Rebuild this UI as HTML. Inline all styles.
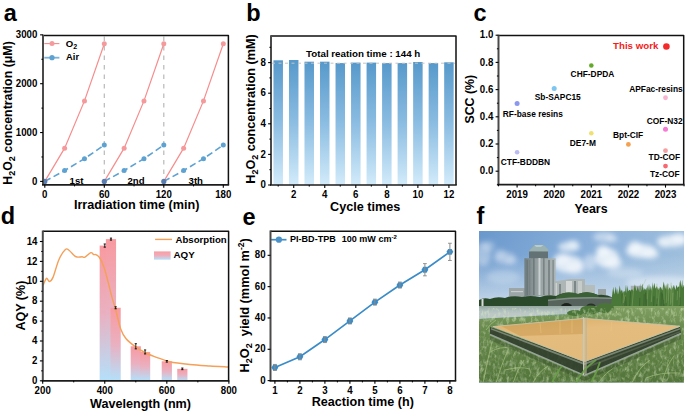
<!DOCTYPE html>
<html><head><meta charset="utf-8"><style>
html,body{margin:0;padding:0;background:#fff;}
body{width:685px;height:413px;overflow:hidden;}
svg{display:block;font-family:"Liberation Sans", sans-serif;}
</style></head><body>
<svg width="685" height="413" viewBox="0 0 685 413" style="font-family:&quot;Liberation Sans&quot;, sans-serif">
<rect width="685" height="413" fill="#fff"/>
<text x="3.80" y="21.00" font-size="23.5" text-anchor="start" fill="#000" font-weight="bold" >a</text>
<line x1="104.30" y1="36.50" x2="104.30" y2="184.00" stroke="#b8b8b8" stroke-width="1.2" stroke-dasharray="4.5 5"/>
<line x1="163.80" y1="36.50" x2="163.80" y2="184.00" stroke="#b8b8b8" stroke-width="1.2" stroke-dasharray="4.5 5"/>
<polyline points="44.80,181.40 64.63,148.18 84.47,100.90 104.30,43.74" fill="none" stroke="#f78c8c" stroke-width="1.2"/>
<polyline points="44.80,181.40 64.63,170.56 84.47,158.68 104.30,145.01" fill="none" stroke="#5ea2d2" stroke-width="1.6" stroke-dasharray="6.5 3.5"/>
<polyline points="104.30,181.40 124.14,148.18 143.97,100.90 163.80,43.74" fill="none" stroke="#f78c8c" stroke-width="1.2"/>
<polyline points="104.30,181.40 124.14,170.56 143.97,158.68 163.80,145.01" fill="none" stroke="#5ea2d2" stroke-width="1.6" stroke-dasharray="6.5 3.5"/>
<polyline points="163.80,181.40 183.64,148.18 203.47,100.90 223.31,43.74" fill="none" stroke="#f78c8c" stroke-width="1.2"/>
<polyline points="163.80,181.40 183.64,170.56 203.47,158.68 223.31,145.01" fill="none" stroke="#5ea2d2" stroke-width="1.6" stroke-dasharray="6.5 3.5"/>
<circle cx="64.63" cy="148.18" r="2.5" fill="#f59a9c"/>
<circle cx="84.47" cy="100.90" r="2.5" fill="#f59a9c"/>
<circle cx="104.30" cy="43.74" r="2.5" fill="#f59a9c"/>
<circle cx="64.63" cy="170.56" r="2.5" fill="#5ea2d2"/>
<circle cx="84.47" cy="158.68" r="2.5" fill="#5ea2d2"/>
<circle cx="104.30" cy="145.01" r="2.5" fill="#5ea2d2"/>
<circle cx="44.80" cy="181.40" r="2.6" fill="#5a7db0"/>
<circle cx="124.14" cy="148.18" r="2.5" fill="#f59a9c"/>
<circle cx="143.97" cy="100.90" r="2.5" fill="#f59a9c"/>
<circle cx="163.80" cy="43.74" r="2.5" fill="#f59a9c"/>
<circle cx="124.14" cy="170.56" r="2.5" fill="#5ea2d2"/>
<circle cx="143.97" cy="158.68" r="2.5" fill="#5ea2d2"/>
<circle cx="163.80" cy="145.01" r="2.5" fill="#5ea2d2"/>
<circle cx="104.30" cy="181.40" r="2.6" fill="#5a7db0"/>
<circle cx="183.64" cy="148.18" r="2.5" fill="#f59a9c"/>
<circle cx="203.47" cy="100.90" r="2.5" fill="#f59a9c"/>
<circle cx="223.31" cy="43.74" r="2.5" fill="#f59a9c"/>
<circle cx="183.64" cy="170.56" r="2.5" fill="#5ea2d2"/>
<circle cx="203.47" cy="158.68" r="2.5" fill="#5ea2d2"/>
<circle cx="223.31" cy="145.01" r="2.5" fill="#5ea2d2"/>
<circle cx="163.80" cy="181.40" r="2.6" fill="#5a7db0"/>
<line x1="44.30" y1="43.60" x2="59.40" y2="43.60" stroke="#f58a8a" stroke-width="1.1" />
<circle cx="52" cy="43.6" r="2.5" fill="#f59a9c"/>
<line x1="44.30" y1="57.70" x2="59.40" y2="57.70" stroke="#7ab4dc" stroke-width="1.8" />
<circle cx="52" cy="57.7" r="2.6" fill="#5ea2d2"/>
<text x="65.8" y="46.6" font-size="9.6" font-weight="bold">O<tspan font-size="7" dy="2.4">2</tspan></text>
<text x="66.00" y="60.10" font-size="9.4" text-anchor="start" fill="#000" font-weight="bold" >Air</text>
<text x="69.60" y="184.20" font-size="9.6" text-anchor="start" fill="#000" font-weight="bold" >1st</text>
<text x="127.50" y="184.20" font-size="9.6" text-anchor="start" fill="#000" font-weight="bold" >2nd</text>
<text x="188.60" y="184.20" font-size="9.6" text-anchor="start" fill="#000" font-weight="bold" >3th</text>
<path d="M43.00,35.50 H228.40 V184.80" fill="none" stroke="#111" stroke-width="1.5" stroke-linejoin="round"/>
<path d="M43.00,34.75 V184.80" fill="none" stroke="#4a4a4a" stroke-width="2.0"/>
<path d="M42.00,184.80 H229.15" fill="none" stroke="#1c1c1c" stroke-width="1.7"/>
<line x1="43.00" y1="181.40" x2="40.10" y2="181.40" stroke="#000" stroke-width="1.1" />
<line x1="43.00" y1="132.55" x2="40.10" y2="132.55" stroke="#000" stroke-width="1.1" />
<line x1="43.00" y1="83.70" x2="40.10" y2="83.70" stroke="#000" stroke-width="1.1" />
<line x1="43.00" y1="34.85" x2="40.10" y2="34.85" stroke="#000" stroke-width="1.1" />
<line x1="43.00" y1="156.98" x2="41.40" y2="156.98" stroke="#000" stroke-width="1.0" />
<line x1="43.00" y1="108.13" x2="41.40" y2="108.13" stroke="#000" stroke-width="1.0" />
<line x1="43.00" y1="59.28" x2="41.40" y2="59.28" stroke="#000" stroke-width="1.0" />
<text transform="translate(37.40,184.50) scale(1,1.05)" font-size="9.7" text-anchor="end" font-weight="bold">0</text>
<text transform="translate(37.40,135.65) scale(1,1.05)" font-size="9.7" text-anchor="end" font-weight="bold">1000</text>
<text transform="translate(37.40,86.80) scale(1,1.05)" font-size="9.7" text-anchor="end" font-weight="bold">2000</text>
<text transform="translate(37.40,37.95) scale(1,1.05)" font-size="9.7" text-anchor="end" font-weight="bold">3000</text>
<line x1="44.80" y1="184.80" x2="44.80" y2="187.70" stroke="#000" stroke-width="1.1" />
<line x1="104.30" y1="184.80" x2="104.30" y2="187.70" stroke="#000" stroke-width="1.1" />
<line x1="163.80" y1="184.80" x2="163.80" y2="187.70" stroke="#000" stroke-width="1.1" />
<line x1="223.31" y1="184.80" x2="223.31" y2="187.70" stroke="#000" stroke-width="1.1" />
<line x1="74.55" y1="184.80" x2="74.55" y2="186.40" stroke="#000" stroke-width="1.0" />
<line x1="134.05" y1="184.80" x2="134.05" y2="186.40" stroke="#000" stroke-width="1.0" />
<line x1="193.56" y1="184.80" x2="193.56" y2="186.40" stroke="#000" stroke-width="1.0" />
<text transform="translate(44.80,198.20) scale(1,1.05)" font-size="9.7" text-anchor="middle" font-weight="bold">0</text>
<text transform="translate(104.30,198.20) scale(1,1.05)" font-size="9.7" text-anchor="middle" font-weight="bold">60</text>
<text transform="translate(163.80,198.20) scale(1,1.05)" font-size="9.7" text-anchor="middle" font-weight="bold">120</text>
<text transform="translate(223.31,198.20) scale(1,1.05)" font-size="9.7" text-anchor="middle" font-weight="bold">180</text>
<text x="73.90" y="209.30" font-size="12.64" text-anchor="start" fill="#000" font-weight="bold" >Irradiation time (min)</text>
<text transform="translate(11.8,113) rotate(-90)" font-size="12.4" text-anchor="middle" font-weight="bold">H<tspan font-size="9" dy="3">2</tspan><tspan dy="-3">O</tspan><tspan font-size="9" dy="3">2</tspan><tspan dy="-3"> concentration (μM)</tspan></text>
<text x="246.20" y="21.20" font-size="23.5" text-anchor="start" fill="#000" font-weight="bold" >b</text>
<defs><linearGradient id="gb" x1="0" y1="0" x2="0" y2="1"><stop offset="0" stop-color="#5799cb"/><stop offset="0.5" stop-color="#8cbde2"/><stop offset="1" stop-color="#d2ebfa"/></linearGradient><linearGradient id="gd" x1="0" y1="0" x2="0" y2="1"><stop offset="0" stop-color="#f89aa0"/><stop offset="0.5" stop-color="#eab0c0"/><stop offset="1" stop-color="#b4e0fa"/></linearGradient><linearGradient id="gl" x1="0" y1="0" x2="0" y2="1"><stop offset="0" stop-color="#f89ea4"/><stop offset="0.45" stop-color="#f2aab6"/><stop offset="1" stop-color="#b6e2fa"/></linearGradient></defs>
<rect x="273.45" y="60.30" width="9.5" height="124.70" fill="url(#gb)"/>
<rect x="288.97" y="60.00" width="9.5" height="125.00" fill="url(#gb)"/>
<rect x="304.49" y="61.68" width="9.5" height="123.32" fill="url(#gb)"/>
<rect x="320.01" y="61.68" width="9.5" height="123.32" fill="url(#gb)"/>
<rect x="335.53" y="63.06" width="9.5" height="121.94" fill="url(#gb)"/>
<rect x="351.05" y="62.60" width="9.5" height="122.40" fill="url(#gb)"/>
<rect x="366.57" y="62.60" width="9.5" height="122.40" fill="url(#gb)"/>
<rect x="382.09" y="63.06" width="9.5" height="121.94" fill="url(#gb)"/>
<rect x="397.61" y="63.06" width="9.5" height="121.94" fill="url(#gb)"/>
<rect x="413.13" y="61.99" width="9.5" height="123.01" fill="url(#gb)"/>
<rect x="428.65" y="63.06" width="9.5" height="121.94" fill="url(#gb)"/>
<rect x="444.17" y="62.29" width="9.5" height="122.71" fill="url(#gb)"/>
<line x1="272.00" y1="63.20" x2="455.00" y2="63.20" stroke="#c4c4c4" stroke-width="1.0" stroke-dasharray="3 3.5"/>
<text x="306.00" y="57.10" font-size="9.77" text-anchor="start" fill="#000" font-weight="bold" >Total reation time : 144 h</text>
<path d="M271.00,35.90 H456.00 V185.00" fill="none" stroke="#111" stroke-width="1.5" stroke-linejoin="round"/>
<path d="M271.00,35.15 V185.00" fill="none" stroke="#4a4a4a" stroke-width="2.0"/>
<path d="M270.00,185.00 H456.75" fill="none" stroke="#1c1c1c" stroke-width="1.7"/>
<line x1="271.00" y1="185.00" x2="268.10" y2="185.00" stroke="#000" stroke-width="1.1" />
<line x1="271.00" y1="154.40" x2="268.10" y2="154.40" stroke="#000" stroke-width="1.1" />
<line x1="271.00" y1="123.80" x2="268.10" y2="123.80" stroke="#000" stroke-width="1.1" />
<line x1="271.00" y1="93.20" x2="268.10" y2="93.20" stroke="#000" stroke-width="1.1" />
<line x1="271.00" y1="62.60" x2="268.10" y2="62.60" stroke="#000" stroke-width="1.1" />
<line x1="271.00" y1="169.70" x2="269.40" y2="169.70" stroke="#000" stroke-width="1.0" />
<line x1="271.00" y1="139.10" x2="269.40" y2="139.10" stroke="#000" stroke-width="1.0" />
<line x1="271.00" y1="108.50" x2="269.40" y2="108.50" stroke="#000" stroke-width="1.0" />
<line x1="271.00" y1="77.90" x2="269.40" y2="77.90" stroke="#000" stroke-width="1.0" />
<line x1="271.00" y1="47.30" x2="269.40" y2="47.30" stroke="#000" stroke-width="1.0" />
<text transform="translate(265.90,188.10) scale(1,1.05)" font-size="9.7" text-anchor="end" font-weight="bold">0</text>
<text transform="translate(265.90,157.50) scale(1,1.05)" font-size="9.7" text-anchor="end" font-weight="bold">2</text>
<text transform="translate(265.90,126.90) scale(1,1.05)" font-size="9.7" text-anchor="end" font-weight="bold">4</text>
<text transform="translate(265.90,96.30) scale(1,1.05)" font-size="9.7" text-anchor="end" font-weight="bold">6</text>
<text transform="translate(265.90,65.70) scale(1,1.05)" font-size="9.7" text-anchor="end" font-weight="bold">8</text>
<line x1="293.72" y1="185.00" x2="293.72" y2="187.90" stroke="#000" stroke-width="1.1" />
<line x1="324.76" y1="185.00" x2="324.76" y2="187.90" stroke="#000" stroke-width="1.1" />
<line x1="355.80" y1="185.00" x2="355.80" y2="187.90" stroke="#000" stroke-width="1.1" />
<line x1="386.84" y1="185.00" x2="386.84" y2="187.90" stroke="#000" stroke-width="1.1" />
<line x1="417.88" y1="185.00" x2="417.88" y2="187.90" stroke="#000" stroke-width="1.1" />
<line x1="448.92" y1="185.00" x2="448.92" y2="187.90" stroke="#000" stroke-width="1.1" />
<line x1="278.20" y1="185.00" x2="278.20" y2="186.60" stroke="#000" stroke-width="1.0" />
<line x1="309.24" y1="185.00" x2="309.24" y2="186.60" stroke="#000" stroke-width="1.0" />
<line x1="340.28" y1="185.00" x2="340.28" y2="186.60" stroke="#000" stroke-width="1.0" />
<line x1="371.32" y1="185.00" x2="371.32" y2="186.60" stroke="#000" stroke-width="1.0" />
<line x1="402.36" y1="185.00" x2="402.36" y2="186.60" stroke="#000" stroke-width="1.0" />
<line x1="433.40" y1="185.00" x2="433.40" y2="186.60" stroke="#000" stroke-width="1.0" />
<text transform="translate(293.72,198.30) scale(1,1.05)" font-size="9.7" text-anchor="middle" font-weight="bold">2</text>
<text transform="translate(324.76,198.30) scale(1,1.05)" font-size="9.7" text-anchor="middle" font-weight="bold">4</text>
<text transform="translate(355.80,198.30) scale(1,1.05)" font-size="9.7" text-anchor="middle" font-weight="bold">6</text>
<text transform="translate(386.84,198.30) scale(1,1.05)" font-size="9.7" text-anchor="middle" font-weight="bold">8</text>
<text transform="translate(417.88,198.30) scale(1,1.05)" font-size="9.7" text-anchor="middle" font-weight="bold">10</text>
<text transform="translate(448.92,198.30) scale(1,1.05)" font-size="9.7" text-anchor="middle" font-weight="bold">12</text>
<text x="330.10" y="210.70" font-size="12.65" text-anchor="start" fill="#000" font-weight="bold" >Cycle times</text>
<text transform="translate(254.5,109) rotate(-90)" font-size="12.6" text-anchor="middle" font-weight="bold">H<tspan font-size="9" dy="3">2</tspan><tspan dy="-3">O</tspan><tspan font-size="9" dy="3">2</tspan><tspan dy="-3"> concentration (mM)</tspan></text>
<text x="473.50" y="20.70" font-size="23.5" text-anchor="start" fill="#000" font-weight="bold" >c</text>
<circle cx="517.10" cy="152.30" r="2.3" fill="#b8bcf0"/>
<text x="500.80" y="165.40" font-size="8.4" text-anchor="start" fill="#000" font-weight="bold" >CTF-BDDBN</text>
<circle cx="517.10" cy="103.61" r="2.5" fill="#8a98ee"/>
<text x="502.80" y="116.60" font-size="8.4" text-anchor="start" fill="#000" font-weight="bold" >RF-base resins</text>
<circle cx="554.20" cy="88.51" r="2.5" fill="#7ec6f2"/>
<text x="534.70" y="99.70" font-size="8.4" text-anchor="start" fill="#000" font-weight="bold" >Sb-SAPC15</text>
<circle cx="591.30" cy="65.53" r="2.3" fill="#62aa28"/>
<text x="570.60" y="77.00" font-size="8.4" text-anchor="start" fill="#000" font-weight="bold" >CHF-DPDA</text>
<circle cx="591.30" cy="133.26" r="2.3" fill="#f0e070"/>
<text x="569.80" y="145.50" font-size="8.4" text-anchor="start" fill="#000" font-weight="bold" >DE7-M</text>
<circle cx="628.40" cy="144.41" r="2.4" fill="#f4a050"/>
<text x="613.00" y="138.00" font-size="8.4" text-anchor="start" fill="#000" font-weight="bold" >Bpt-CIF</text>
<circle cx="665.50" cy="97.76" r="2.4" fill="#f8b4d0"/>
<text x="629.20" y="91.60" font-size="8.4" text-anchor="start" fill="#000" font-weight="bold" >APFac-resins</text>
<circle cx="665.50" cy="129.31" r="2.5" fill="#f57ad4"/>
<text x="646.80" y="124.00" font-size="8.4" text-anchor="start" fill="#000" font-weight="bold" >COF-N32</text>
<circle cx="665.50" cy="150.66" r="2.4" fill="#f4a0a0"/>
<text x="648.60" y="160.10" font-size="8.4" text-anchor="start" fill="#000" font-weight="bold" >TD-COF</text>
<circle cx="665.50" cy="166.03" r="2.4" fill="#f86870"/>
<text x="649.90" y="176.70" font-size="8.4" text-anchor="start" fill="#000" font-weight="bold" >Tz-COF</text>
<circle cx="666.4" cy="46.5" r="3.3" fill="#f42a2a"/>
<text x="613.10" y="49.40" font-size="9.7" text-anchor="start" fill="#f41c1c" font-weight="bold" >This work</text>
<path d="M498.50,35.50 H683.70 V184.70" fill="none" stroke="#111" stroke-width="1.5" stroke-linejoin="round"/>
<path d="M498.50,34.75 V184.70" fill="none" stroke="#4a4a4a" stroke-width="2.0"/>
<path d="M497.50,184.70 H684.45" fill="none" stroke="#1c1c1c" stroke-width="1.7"/>
<line x1="498.50" y1="171.20" x2="495.60" y2="171.20" stroke="#000" stroke-width="1.1" />
<line x1="498.50" y1="144.00" x2="495.60" y2="144.00" stroke="#000" stroke-width="1.1" />
<line x1="498.50" y1="116.80" x2="495.60" y2="116.80" stroke="#000" stroke-width="1.1" />
<line x1="498.50" y1="89.60" x2="495.60" y2="89.60" stroke="#000" stroke-width="1.1" />
<line x1="498.50" y1="62.40" x2="495.60" y2="62.40" stroke="#000" stroke-width="1.1" />
<line x1="498.50" y1="35.20" x2="495.60" y2="35.20" stroke="#000" stroke-width="1.1" />
<line x1="498.50" y1="184.80" x2="496.90" y2="184.80" stroke="#000" stroke-width="1.0" />
<line x1="498.50" y1="157.60" x2="496.90" y2="157.60" stroke="#000" stroke-width="1.0" />
<line x1="498.50" y1="130.40" x2="496.90" y2="130.40" stroke="#000" stroke-width="1.0" />
<line x1="498.50" y1="103.20" x2="496.90" y2="103.20" stroke="#000" stroke-width="1.0" />
<line x1="498.50" y1="76.00" x2="496.90" y2="76.00" stroke="#000" stroke-width="1.0" />
<line x1="498.50" y1="48.80" x2="496.90" y2="48.80" stroke="#000" stroke-width="1.0" />
<text transform="translate(493.30,174.30) scale(1,1.05)" font-size="9.7" text-anchor="end" font-weight="bold">0.0</text>
<text transform="translate(493.30,147.10) scale(1,1.05)" font-size="9.7" text-anchor="end" font-weight="bold">0.2</text>
<text transform="translate(493.30,119.90) scale(1,1.05)" font-size="9.7" text-anchor="end" font-weight="bold">0.4</text>
<text transform="translate(493.30,92.70) scale(1,1.05)" font-size="9.7" text-anchor="end" font-weight="bold">0.6</text>
<text transform="translate(493.30,65.50) scale(1,1.05)" font-size="9.7" text-anchor="end" font-weight="bold">0.8</text>
<text transform="translate(493.30,38.30) scale(1,1.05)" font-size="9.7" text-anchor="end" font-weight="bold">1.0</text>
<line x1="517.10" y1="184.70" x2="517.10" y2="187.60" stroke="#000" stroke-width="1.1" />
<line x1="554.20" y1="184.70" x2="554.20" y2="187.60" stroke="#000" stroke-width="1.1" />
<line x1="591.30" y1="184.70" x2="591.30" y2="187.60" stroke="#000" stroke-width="1.1" />
<line x1="628.40" y1="184.70" x2="628.40" y2="187.60" stroke="#000" stroke-width="1.1" />
<line x1="665.50" y1="184.70" x2="665.50" y2="187.60" stroke="#000" stroke-width="1.1" />
<line x1="498.55" y1="184.70" x2="498.55" y2="186.30" stroke="#000" stroke-width="1.0" />
<line x1="535.65" y1="184.70" x2="535.65" y2="186.30" stroke="#000" stroke-width="1.0" />
<line x1="572.75" y1="184.70" x2="572.75" y2="186.30" stroke="#000" stroke-width="1.0" />
<line x1="609.85" y1="184.70" x2="609.85" y2="186.30" stroke="#000" stroke-width="1.0" />
<line x1="646.95" y1="184.70" x2="646.95" y2="186.30" stroke="#000" stroke-width="1.0" />
<line x1="684.05" y1="184.70" x2="684.05" y2="186.30" stroke="#000" stroke-width="1.0" />
<text transform="translate(517.10,198.40) scale(1,1.05)" font-size="9.7" text-anchor="middle" font-weight="bold">2019</text>
<text transform="translate(554.20,198.40) scale(1,1.05)" font-size="9.7" text-anchor="middle" font-weight="bold">2020</text>
<text transform="translate(591.30,198.40) scale(1,1.05)" font-size="9.7" text-anchor="middle" font-weight="bold">2021</text>
<text transform="translate(628.40,198.40) scale(1,1.05)" font-size="9.7" text-anchor="middle" font-weight="bold">2022</text>
<text transform="translate(665.50,198.40) scale(1,1.05)" font-size="9.7" text-anchor="middle" font-weight="bold">2023</text>
<text x="574.50" y="212.70" font-size="12.4" text-anchor="start" fill="#000" font-weight="bold" >Years</text>
<text transform="translate(473.9,99.2) rotate(-90)" font-size="12.35" text-anchor="middle" font-weight="bold">SCC (%)</text>
<text x="0.80" y="224.20" font-size="23.5" text-anchor="start" fill="#000" font-weight="bold" >d</text>
<rect x="99.66" y="245.58" width="10.2" height="135.22" fill="url(#gd)"/>
<rect x="105.87" y="239.11" width="10.2" height="141.69" fill="url(#gd)"/>
<rect x="110.52" y="307.77" width="10.2" height="73.03" fill="url(#gd)"/>
<rect x="130.69" y="346.27" width="10.2" height="34.53" fill="url(#gd)"/>
<rect x="140.00" y="351.94" width="10.2" height="28.86" fill="url(#gd)"/>
<rect x="161.72" y="361.30" width="10.2" height="19.50" fill="url(#gd)"/>
<rect x="177.24" y="368.86" width="10.2" height="11.94" fill="url(#gd)"/>
<path d="M43.2,285.1 C43.75,283.97 45.47,278.90 46.50,278.30 C47.53,277.70 48.30,281.70 49.40,281.50 C50.50,281.30 51.52,280.73 53.10,277.10 C54.68,273.47 56.85,264.30 58.90,259.70 C60.95,255.10 63.72,251.08 65.40,249.50 C67.08,247.92 67.42,249.10 69.00,250.20 C70.58,251.30 73.43,254.95 74.90,256.10 C76.37,257.25 76.60,256.98 77.80,257.10 C79.00,257.22 80.90,256.78 82.10,256.80 C83.30,256.82 83.55,257.88 85.00,257.20 C86.45,256.52 89.35,253.13 90.80,252.70 C92.25,252.27 92.85,254.28 93.70,254.60 C94.55,254.92 94.93,254.12 95.90,254.60 C96.87,255.08 98.17,255.43 99.50,257.50 C100.83,259.57 102.55,263.25 103.90,267.00 C105.25,270.75 106.25,274.93 107.60,280.00 C108.95,285.07 110.72,292.68 112.00,297.40 C113.28,302.12 113.85,303.03 115.30,308.30 C116.75,313.57 118.90,323.92 120.70,329.00 C122.50,334.08 123.73,335.90 126.10,338.80 C128.47,341.70 131.62,344.03 134.90,346.40 C138.18,348.77 142.18,351.18 145.80,353.00 C149.42,354.82 152.62,355.85 156.60,357.30 C160.58,358.75 164.13,360.50 169.70,361.70 C175.27,362.90 183.28,363.78 190.00,364.50 C196.72,365.22 203.67,365.58 210.00,366.00 C216.33,366.42 225.00,366.83 228.00,367.00" fill="none" stroke="#f4a058" stroke-width="1.4"/>
<line x1="104.76" y1="243.99" x2="104.76" y2="247.17" stroke="#000" stroke-width="0.8" />
<line x1="103.66" y1="243.99" x2="105.86" y2="243.99" stroke="#000" stroke-width="0.9" />
<line x1="103.66" y1="247.17" x2="105.86" y2="247.17" stroke="#000" stroke-width="0.9" />
<line x1="110.97" y1="238.12" x2="110.97" y2="240.11" stroke="#000" stroke-width="0.8" />
<line x1="109.87" y1="238.12" x2="112.07" y2="238.12" stroke="#000" stroke-width="0.9" />
<line x1="109.87" y1="240.11" x2="112.07" y2="240.11" stroke="#000" stroke-width="0.9" />
<line x1="115.62" y1="306.77" x2="115.62" y2="308.76" stroke="#000" stroke-width="0.8" />
<line x1="114.52" y1="306.77" x2="116.72" y2="306.77" stroke="#000" stroke-width="0.9" />
<line x1="114.52" y1="308.76" x2="116.72" y2="308.76" stroke="#000" stroke-width="0.9" />
<line x1="135.79" y1="343.69" x2="135.79" y2="348.86" stroke="#000" stroke-width="0.8" />
<line x1="134.69" y1="343.69" x2="136.89" y2="343.69" stroke="#000" stroke-width="0.9" />
<line x1="134.69" y1="348.86" x2="136.89" y2="348.86" stroke="#000" stroke-width="0.9" />
<line x1="145.10" y1="349.95" x2="145.10" y2="353.94" stroke="#000" stroke-width="0.8" />
<line x1="144.00" y1="349.95" x2="146.20" y2="349.95" stroke="#000" stroke-width="0.9" />
<line x1="144.00" y1="353.94" x2="146.20" y2="353.94" stroke="#000" stroke-width="0.9" />
<line x1="166.82" y1="360.50" x2="166.82" y2="362.10" stroke="#000" stroke-width="0.8" />
<line x1="165.72" y1="360.50" x2="167.92" y2="360.50" stroke="#000" stroke-width="0.9" />
<line x1="165.72" y1="362.10" x2="167.92" y2="362.10" stroke="#000" stroke-width="0.9" />
<line x1="182.34" y1="368.06" x2="182.34" y2="369.66" stroke="#000" stroke-width="0.8" />
<line x1="181.24" y1="368.06" x2="183.44" y2="368.06" stroke="#000" stroke-width="0.9" />
<line x1="181.24" y1="369.66" x2="183.44" y2="369.66" stroke="#000" stroke-width="0.9" />
<line x1="155.10" y1="239.40" x2="172.00" y2="239.40" stroke="#f4a058" stroke-width="1.4" />
<text x="175.50" y="242.70" font-size="9.62" text-anchor="start" fill="#000" font-weight="bold" >Absorption</text>
<rect x="154" y="251.4" width="16.6" height="8.3" fill="url(#gl)"/>
<text x="173.50" y="257.80" font-size="9.8" text-anchor="start" fill="#000" font-weight="bold" >AQY</text>
<path d="M42.80,231.30 H228.60 V380.80" fill="none" stroke="#111" stroke-width="1.5" stroke-linejoin="round"/>
<path d="M42.80,230.55 V380.80" fill="none" stroke="#4a4a4a" stroke-width="2.0"/>
<path d="M41.80,380.80 H229.35" fill="none" stroke="#1c1c1c" stroke-width="1.7"/>
<line x1="42.80" y1="380.80" x2="39.90" y2="380.80" stroke="#000" stroke-width="1.1" />
<line x1="42.80" y1="360.90" x2="39.90" y2="360.90" stroke="#000" stroke-width="1.1" />
<line x1="42.80" y1="341.00" x2="39.90" y2="341.00" stroke="#000" stroke-width="1.1" />
<line x1="42.80" y1="321.10" x2="39.90" y2="321.10" stroke="#000" stroke-width="1.1" />
<line x1="42.80" y1="301.20" x2="39.90" y2="301.20" stroke="#000" stroke-width="1.1" />
<line x1="42.80" y1="281.30" x2="39.90" y2="281.30" stroke="#000" stroke-width="1.1" />
<line x1="42.80" y1="261.40" x2="39.90" y2="261.40" stroke="#000" stroke-width="1.1" />
<line x1="42.80" y1="241.50" x2="39.90" y2="241.50" stroke="#000" stroke-width="1.1" />
<line x1="42.80" y1="370.85" x2="41.20" y2="370.85" stroke="#000" stroke-width="1.0" />
<line x1="42.80" y1="350.95" x2="41.20" y2="350.95" stroke="#000" stroke-width="1.0" />
<line x1="42.80" y1="331.05" x2="41.20" y2="331.05" stroke="#000" stroke-width="1.0" />
<line x1="42.80" y1="311.15" x2="41.20" y2="311.15" stroke="#000" stroke-width="1.0" />
<line x1="42.80" y1="291.25" x2="41.20" y2="291.25" stroke="#000" stroke-width="1.0" />
<line x1="42.80" y1="271.35" x2="41.20" y2="271.35" stroke="#000" stroke-width="1.0" />
<line x1="42.80" y1="251.45" x2="41.20" y2="251.45" stroke="#000" stroke-width="1.0" />
<text transform="translate(37.50,383.90) scale(1,1.05)" font-size="9.7" text-anchor="end" font-weight="bold">0</text>
<text transform="translate(37.50,364.00) scale(1,1.05)" font-size="9.7" text-anchor="end" font-weight="bold">2</text>
<text transform="translate(37.50,344.10) scale(1,1.05)" font-size="9.7" text-anchor="end" font-weight="bold">4</text>
<text transform="translate(37.50,324.20) scale(1,1.05)" font-size="9.7" text-anchor="end" font-weight="bold">6</text>
<text transform="translate(37.50,304.30) scale(1,1.05)" font-size="9.7" text-anchor="end" font-weight="bold">8</text>
<text transform="translate(37.50,284.40) scale(1,1.05)" font-size="9.7" text-anchor="end" font-weight="bold">10</text>
<text transform="translate(37.50,264.50) scale(1,1.05)" font-size="9.7" text-anchor="end" font-weight="bold">12</text>
<text transform="translate(37.50,244.60) scale(1,1.05)" font-size="9.7" text-anchor="end" font-weight="bold">14</text>
<line x1="42.70" y1="380.80" x2="42.70" y2="383.70" stroke="#000" stroke-width="1.1" />
<line x1="104.76" y1="380.80" x2="104.76" y2="383.70" stroke="#000" stroke-width="1.1" />
<line x1="166.82" y1="380.80" x2="166.82" y2="383.70" stroke="#000" stroke-width="1.1" />
<line x1="228.88" y1="380.80" x2="228.88" y2="383.70" stroke="#000" stroke-width="1.1" />
<line x1="73.73" y1="380.80" x2="73.73" y2="382.40" stroke="#000" stroke-width="1.0" />
<line x1="135.79" y1="380.80" x2="135.79" y2="382.40" stroke="#000" stroke-width="1.0" />
<line x1="197.85" y1="380.80" x2="197.85" y2="382.40" stroke="#000" stroke-width="1.0" />
<text transform="translate(42.70,394.20) scale(1,1.05)" font-size="9.7" text-anchor="middle" font-weight="bold">200</text>
<text transform="translate(104.76,394.20) scale(1,1.05)" font-size="9.7" text-anchor="middle" font-weight="bold">400</text>
<text transform="translate(166.82,394.20) scale(1,1.05)" font-size="9.7" text-anchor="middle" font-weight="bold">600</text>
<text transform="translate(228.88,394.20) scale(1,1.05)" font-size="9.7" text-anchor="middle" font-weight="bold">800</text>
<text x="90.00" y="408.00" font-size="12.6" text-anchor="start" fill="#000" font-weight="bold" >Wavelength (nm)</text>
<text transform="translate(24.9,305.6) rotate(-90)" font-size="12.55" text-anchor="middle" font-weight="bold">AQY (%)</text>
<text x="242.50" y="224.80" font-size="23.5" text-anchor="start" fill="#000" font-weight="bold" >e</text>
<polyline points="274.90,367.45 299.90,356.80 324.90,339.57 349.90,320.94 374.90,302.14 399.90,285.07 424.90,269.73 449.90,251.87" fill="none" stroke="#3a8cc8" stroke-width="1.7"/>
<polygon points="278.30,367.45 276.60,370.39 273.20,370.39 271.50,367.45 273.20,364.50 276.60,364.50" fill="#3a8cc8"/>
<polygon points="303.30,356.80 301.60,359.74 298.20,359.74 296.50,356.80 298.20,353.85 301.60,353.85" fill="#3a8cc8"/>
<polygon points="328.30,339.57 326.60,342.52 323.20,342.52 321.50,339.57 323.20,336.63 326.60,336.63" fill="#3a8cc8"/>
<polygon points="353.30,320.94 351.60,323.88 348.20,323.88 346.50,320.94 348.20,317.99 351.60,317.99" fill="#3a8cc8"/>
<polygon points="378.30,302.14 376.60,305.09 373.20,305.09 371.50,302.14 373.20,299.20 376.60,299.20" fill="#3a8cc8"/>
<polygon points="403.30,285.07 401.60,288.02 398.20,288.02 396.50,285.07 398.20,282.13 401.60,282.13" fill="#3a8cc8"/>
<polygon points="428.30,269.73 426.60,272.67 423.20,272.67 421.50,269.73 423.20,266.78 426.60,266.78" fill="#3a8cc8"/>
<polygon points="453.30,251.87 451.60,254.82 448.20,254.82 446.50,251.87 448.20,248.93 451.60,248.93" fill="#3a8cc8"/>
<line x1="274.90" y1="364.45" x2="274.90" y2="370.45" stroke="#8a8a8a" stroke-width="1.0" />
<line x1="273.00" y1="364.45" x2="276.80" y2="364.45" stroke="#8a8a8a" stroke-width="0.9" />
<line x1="273.00" y1="370.45" x2="276.80" y2="370.45" stroke="#8a8a8a" stroke-width="0.9" />
<line x1="299.90" y1="353.80" x2="299.90" y2="359.80" stroke="#8a8a8a" stroke-width="1.0" />
<line x1="298.00" y1="353.80" x2="301.80" y2="353.80" stroke="#8a8a8a" stroke-width="0.9" />
<line x1="298.00" y1="359.80" x2="301.80" y2="359.80" stroke="#8a8a8a" stroke-width="0.9" />
<line x1="324.90" y1="336.57" x2="324.90" y2="342.57" stroke="#8a8a8a" stroke-width="1.0" />
<line x1="323.00" y1="336.57" x2="326.80" y2="336.57" stroke="#8a8a8a" stroke-width="0.9" />
<line x1="323.00" y1="342.57" x2="326.80" y2="342.57" stroke="#8a8a8a" stroke-width="0.9" />
<line x1="349.90" y1="317.94" x2="349.90" y2="323.94" stroke="#8a8a8a" stroke-width="1.0" />
<line x1="348.00" y1="317.94" x2="351.80" y2="317.94" stroke="#8a8a8a" stroke-width="0.9" />
<line x1="348.00" y1="323.94" x2="351.80" y2="323.94" stroke="#8a8a8a" stroke-width="0.9" />
<line x1="374.90" y1="299.14" x2="374.90" y2="305.14" stroke="#8a8a8a" stroke-width="1.0" />
<line x1="373.00" y1="299.14" x2="376.80" y2="299.14" stroke="#8a8a8a" stroke-width="0.9" />
<line x1="373.00" y1="305.14" x2="376.80" y2="305.14" stroke="#8a8a8a" stroke-width="0.9" />
<line x1="399.90" y1="282.07" x2="399.90" y2="288.07" stroke="#8a8a8a" stroke-width="1.0" />
<line x1="398.00" y1="282.07" x2="401.80" y2="282.07" stroke="#8a8a8a" stroke-width="0.9" />
<line x1="398.00" y1="288.07" x2="401.80" y2="288.07" stroke="#8a8a8a" stroke-width="0.9" />
<line x1="424.90" y1="263.62" x2="424.90" y2="275.83" stroke="#8a8a8a" stroke-width="1.0" />
<line x1="423.00" y1="263.62" x2="426.80" y2="263.62" stroke="#8a8a8a" stroke-width="0.9" />
<line x1="423.00" y1="275.83" x2="426.80" y2="275.83" stroke="#8a8a8a" stroke-width="0.9" />
<line x1="449.90" y1="243.26" x2="449.90" y2="260.49" stroke="#8a8a8a" stroke-width="1.0" />
<line x1="448.00" y1="243.26" x2="451.80" y2="243.26" stroke="#8a8a8a" stroke-width="0.9" />
<line x1="448.00" y1="260.49" x2="451.80" y2="260.49" stroke="#8a8a8a" stroke-width="0.9" />
<line x1="271.10" y1="239.70" x2="286.50" y2="239.70" stroke="#3b8ec8" stroke-width="1.7" />
<circle cx="278.9" cy="239.7" r="3.1" fill="#4a92c8"/>
<text x="290.00" y="242.30" font-size="9.05" text-anchor="start" fill="#000" font-weight="bold" >PI-BD-TPB</text>
<text x="341.7" y="242.3" font-size="9.05" font-weight="bold">100 mW cm<tspan font-size="6" dy="-3.3">-2</tspan></text>
<path d="M270.50,231.20 H455.50 V380.80" fill="none" stroke="#111" stroke-width="1.5" stroke-linejoin="round"/>
<path d="M270.50,230.45 V380.80" fill="none" stroke="#4a4a4a" stroke-width="2.0"/>
<path d="M269.50,380.80 H456.25" fill="none" stroke="#1c1c1c" stroke-width="1.7"/>
<line x1="270.50" y1="380.60" x2="267.60" y2="380.60" stroke="#000" stroke-width="1.1" />
<line x1="270.50" y1="349.28" x2="267.60" y2="349.28" stroke="#000" stroke-width="1.1" />
<line x1="270.50" y1="317.96" x2="267.60" y2="317.96" stroke="#000" stroke-width="1.1" />
<line x1="270.50" y1="286.64" x2="267.60" y2="286.64" stroke="#000" stroke-width="1.1" />
<line x1="270.50" y1="255.32" x2="267.60" y2="255.32" stroke="#000" stroke-width="1.1" />
<text transform="translate(265.60,383.70) scale(1,1.05)" font-size="9.7" text-anchor="end" font-weight="bold">0</text>
<text transform="translate(265.60,352.38) scale(1,1.05)" font-size="9.7" text-anchor="end" font-weight="bold">20</text>
<text transform="translate(265.60,321.06) scale(1,1.05)" font-size="9.7" text-anchor="end" font-weight="bold">40</text>
<text transform="translate(265.60,289.74) scale(1,1.05)" font-size="9.7" text-anchor="end" font-weight="bold">60</text>
<text transform="translate(265.60,258.42) scale(1,1.05)" font-size="9.7" text-anchor="end" font-weight="bold">80</text>
<line x1="274.90" y1="380.80" x2="274.90" y2="383.70" stroke="#000" stroke-width="1.1" />
<line x1="299.90" y1="380.80" x2="299.90" y2="383.70" stroke="#000" stroke-width="1.1" />
<line x1="324.90" y1="380.80" x2="324.90" y2="383.70" stroke="#000" stroke-width="1.1" />
<line x1="349.90" y1="380.80" x2="349.90" y2="383.70" stroke="#000" stroke-width="1.1" />
<line x1="374.90" y1="380.80" x2="374.90" y2="383.70" stroke="#000" stroke-width="1.1" />
<line x1="399.90" y1="380.80" x2="399.90" y2="383.70" stroke="#000" stroke-width="1.1" />
<line x1="424.90" y1="380.80" x2="424.90" y2="383.70" stroke="#000" stroke-width="1.1" />
<line x1="449.90" y1="380.80" x2="449.90" y2="383.70" stroke="#000" stroke-width="1.1" />
<line x1="287.40" y1="380.80" x2="287.40" y2="382.40" stroke="#000" stroke-width="1.0" />
<line x1="312.40" y1="380.80" x2="312.40" y2="382.40" stroke="#000" stroke-width="1.0" />
<line x1="337.40" y1="380.80" x2="337.40" y2="382.40" stroke="#000" stroke-width="1.0" />
<line x1="362.40" y1="380.80" x2="362.40" y2="382.40" stroke="#000" stroke-width="1.0" />
<line x1="387.40" y1="380.80" x2="387.40" y2="382.40" stroke="#000" stroke-width="1.0" />
<line x1="412.40" y1="380.80" x2="412.40" y2="382.40" stroke="#000" stroke-width="1.0" />
<line x1="437.40" y1="380.80" x2="437.40" y2="382.40" stroke="#000" stroke-width="1.0" />
<text transform="translate(274.90,394.20) scale(1,1.05)" font-size="9.7" text-anchor="middle" font-weight="bold">1</text>
<text transform="translate(299.90,394.20) scale(1,1.05)" font-size="9.7" text-anchor="middle" font-weight="bold">2</text>
<text transform="translate(324.90,394.20) scale(1,1.05)" font-size="9.7" text-anchor="middle" font-weight="bold">3</text>
<text transform="translate(349.90,394.20) scale(1,1.05)" font-size="9.7" text-anchor="middle" font-weight="bold">4</text>
<text transform="translate(374.90,394.20) scale(1,1.05)" font-size="9.7" text-anchor="middle" font-weight="bold">5</text>
<text transform="translate(399.90,394.20) scale(1,1.05)" font-size="9.7" text-anchor="middle" font-weight="bold">6</text>
<text transform="translate(424.90,394.20) scale(1,1.05)" font-size="9.7" text-anchor="middle" font-weight="bold">7</text>
<text transform="translate(449.90,394.20) scale(1,1.05)" font-size="9.7" text-anchor="middle" font-weight="bold">8</text>
<text x="311.70" y="405.70" font-size="12.6" text-anchor="start" fill="#000" font-weight="bold" >Reaction time (h)</text>
<text transform="translate(248.9,305.4) rotate(-90)" font-size="12.8" text-anchor="middle" font-weight="bold">H<tspan font-size="9" dy="3">2</tspan><tspan dy="-3">O</tspan><tspan font-size="9" dy="3">2</tspan><tspan dy="-3">&#160; yield (mmol m</tspan><tspan font-size="8.5" dy="-4.5">-2</tspan><tspan dy="4.5">)</tspan></text>
<text x="476.60" y="223.90" font-size="23.5" text-anchor="start" fill="#000" font-weight="bold" >f</text>
<g>
<defs>
<clipPath id="pc"><rect x="479" y="231" width="205" height="151.5"/></clipPath>
<linearGradient id="sky" x1="0" y1="0" x2="1" y2="0.5"><stop offset="0" stop-color="#6a98cc"/><stop offset="0.45" stop-color="#8ab0da"/><stop offset="1" stop-color="#a6c4de"/></linearGradient>
<linearGradient id="haze" x1="0" y1="0" x2="0" y2="1"><stop offset="0" stop-color="#d4e2ee" stop-opacity="0"/><stop offset="1" stop-color="#d4e2ee" stop-opacity="0.75"/></linearGradient>
<linearGradient id="grassg" x1="0" y1="0" x2="0" y2="1"><stop offset="0" stop-color="#80a062"/><stop offset="0.3" stop-color="#688a4c"/><stop offset="1" stop-color="#52743a"/></linearGradient>
<linearGradient id="tray" x1="0" y1="0" x2="0.3" y2="1"><stop offset="0" stop-color="#dcae66"/><stop offset="0.35" stop-color="#e4bc7e"/><stop offset="1" stop-color="#e2ba7c"/></linearGradient>
<linearGradient id="twr" x1="0" y1="0" x2="1" y2="0"><stop offset="0" stop-color="#707e80"/><stop offset="0.45" stop-color="#98a2a2"/><stop offset="1" stop-color="#acb4b4"/></linearGradient>
<linearGradient id="water" x1="0" y1="0" x2="0" y2="1"><stop offset="0" stop-color="#97a8a2"/><stop offset="0.4" stop-color="#b2c2c0"/><stop offset="1" stop-color="#bac8c4"/></linearGradient>
<filter id="bl" x="-50%" y="-50%" width="200%" height="200%"><feGaussianBlur stdDeviation="2.6"/></filter>
<filter id="bl1" x="-20%" y="-20%" width="140%" height="140%"><feGaussianBlur stdDeviation="0.5"/></filter>
<filter id="tex" x="0" y="0" width="100%" height="100%"><feTurbulence type="fractalNoise" baseFrequency="0.3 0.18" numOctaves="3" seed="7"/><feColorMatrix values="0 0 0 0 0.72  0 0 0 0 0.84  0 0 0 0 0.56  0 0 0 2.6 -1.2"/></filter>
<filter id="tex2" x="0" y="0" width="100%" height="100%"><feTurbulence type="fractalNoise" baseFrequency="0.28 0.2" numOctaves="3" seed="3"/><feColorMatrix values="0 0 0 0 0.16  0 0 0 0 0.26  0 0 0 0 0.1  0 0 0 2.6 -1.15"/></filter>
</defs>
<g clip-path="url(#pc)">
<rect x="479" y="231" width="205" height="152" fill="url(#sky)"/>
<rect x="479" y="255" width="205" height="45" fill="url(#haze)"/>
<g filter="url(#bl)" fill="#f4f8fc">
<ellipse cx="483" cy="254" rx="8" ry="12" opacity="0.4"/>
<ellipse cx="489" cy="246" rx="6" ry="5" opacity="0.3"/>
<ellipse cx="505" cy="258" rx="11" ry="6" opacity="0.38"/>
<ellipse cx="500" cy="254" rx="6" ry="5" opacity="0.3"/>
<ellipse cx="511" cy="261" rx="6" ry="4" opacity="0.3"/>
<ellipse cx="503" cy="277" rx="16" ry="7" opacity="0.25"/>
<ellipse cx="569" cy="247" rx="11" ry="5" opacity="0.7"/>
<ellipse cx="573" cy="244" rx="6" ry="4" opacity="0.6"/>
<ellipse cx="568" cy="264" rx="15" ry="9" opacity="0.75"/>
<ellipse cx="562" cy="259" rx="8" ry="6" opacity="0.7"/>
<ellipse cx="575" cy="268" rx="9" ry="6" opacity="0.65"/>
<ellipse cx="590" cy="262" rx="6" ry="8" opacity="0.45"/>
<ellipse cx="607" cy="258" rx="12" ry="10" opacity="0.8"/>
<ellipse cx="603" cy="251" rx="7" ry="6" opacity="0.75"/>
<ellipse cx="613" cy="263" rx="9" ry="6" opacity="0.7"/>
<ellipse cx="604" cy="237" rx="11" ry="5" opacity="0.5"/>
<ellipse cx="612" cy="239" rx="6" ry="4" opacity="0.4"/>
<ellipse cx="641" cy="251" rx="15" ry="7" opacity="0.8"/>
<ellipse cx="635" cy="247" rx="7" ry="6" opacity="0.75"/>
<ellipse cx="650" cy="254" rx="9" ry="5" opacity="0.7"/>
<ellipse cx="672" cy="241" rx="15" ry="6" opacity="0.75"/>
<ellipse cx="679" cy="238" rx="8" ry="5" opacity="0.7"/>
<ellipse cx="664" cy="244" rx="6" ry="4" opacity="0.5"/>
<ellipse cx="662" cy="283" rx="36" ry="7" opacity="0.45"/>
<ellipse cx="625" cy="273" rx="18" ry="5" opacity="0.3"/>
</g>
<!-- buildings -->
<g filter="url(#bl1)">
<rect x="509" y="288" width="16" height="11" fill="#9ca6a6"/>
<rect x="511" y="291" width="12" height="1.2" fill="#c8cccc"/>
<path d="M544,283 L570,279 L585,279 L585,299 L544,299 Z" fill="#aeb6b5"/>
<rect x="553" y="283" width="4" height="16" fill="#ccd0ce"/>
<rect x="559" y="284" width="2" height="15" fill="#808a8a"/>
<rect x="566" y="281" width="6" height="18" fill="#d4d8d6"/>
<rect x="574" y="281" width="2" height="18" fill="#7c8686"/>
<rect x="578" y="281" width="4" height="18" fill="#c6ccca"/>
<rect x="585" y="285" width="10" height="14" fill="#b4bcbc"/>
<rect x="598" y="289" width="8" height="9" fill="#9aa4a6"/>
<rect x="630.8" y="285.8" width="11.2" height="13" fill="#a6aeb2"/>
<path d="M524.4,258.2 L530.9,258.2 L530.9,251 L528.7,251 L534.5,245.1 L543.3,245.1 L548.3,249.4 L548,251 L548,258.2 L555.6,258.2 L555.6,296 L524.4,296 Z" fill="url(#twr)"/>
<path d="M528.7,251 L534.5,245.1 L543.3,245.1 L548.3,249.6 L548,251.5 L529,251.5 Z" fill="#9ab2b2"/>
<path d="M534.5,245.1 L543.3,245.1 L541,247 L536,247 Z" fill="#b8cccc"/>
<rect x="529" y="251.5" width="19" height="6.7" fill="#627274"/>
<rect x="526.5" y="260" width="1.4" height="35" fill="#6a7778"/>
<rect x="529" y="260" width="1.2" height="35" fill="#768284"/>
<rect x="533" y="258" width="1.6" height="37" fill="#6e7a7c"/>
<rect x="538.5" y="258" width="2" height="37" fill="#c8d0d0"/>
<rect x="543" y="258" width="1.6" height="37" fill="#788384"/>
<rect x="548.3" y="260" width="1.4" height="35" fill="#6c7677"/>
<rect x="552.5" y="260" width="1.2" height="35" fill="#7a8485"/>
</g>
<!-- trees -->
<path d="M479,300 Q484,297 490,299 Q497,296 505,298 Q513,295 522,297 Q530,295 540,297 Q548,294 556,296 Q566,290 578,294 Q588,290 598,295 Q606,294 614,298 L614,307 L479,307 Z" fill="#2c4a2a" filter="url(#bl1)"/>
<path d="M556,297 Q566,290 578,294 Q588,290 598,295 L600,300 L556,300 Z" fill="#3a6035" filter="url(#bl1)"/>
<rect x="481.5" y="299" width="2" height="7" fill="#d8dcd8"/>
<!-- bridge -->
<path d="M548,300 Q580,296 612,298 L612,307 L548,307 Z" fill="#56645c" filter="url(#bl1)"/>
<path d="M548,299.5 Q580,295.8 612,297.6 L612,299 Q580,297.5 548,301 Z" fill="#8e9a94" opacity="0.8"/>
<ellipse cx="566.5" cy="307" rx="5.5" ry="4" fill="#1c241c" filter="url(#bl1)"/>
<ellipse cx="591" cy="307" rx="5" ry="3.5" fill="#28322a" filter="url(#bl1)"/>
<!-- reeds -->
<path d="M610.0,309.0 L612.0,296.0 L613.2,286.8 L614.3,294.4 L615.8,286.6 L617.2,294.6 L617.8,288.3 L618.5,294.4 L619.7,285.2 L620.8,291.8 L621.9,289.6 L622.9,292.9 L624.0,291.0 L625.1,291.8 L626.0,284.5 L626.8,293.2 L627.6,285.2 L628.3,291.2 L629.5,289.8 L630.6,290.7 L632.0,289.0 L633.4,291.2 L634.9,284.2 L636.4,291.2 L637.8,286.3 L639.3,292.1 L640.1,283.2 L640.9,291.9 L642.3,283.4 L643.8,290.6 L644.7,288.3 L645.6,289.9 L646.3,287.2 L647.0,291.1 L647.6,284.5 L648.2,290.2 L649.0,283.4 L649.9,290.5 L650.8,285.6 L651.7,291.1 L652.3,282.0 L653.0,288.9 L654.3,282.8 L655.5,288.8 L656.9,286.0 L658.2,290.3 L658.8,288.0 L659.4,288.8 L660.8,286.8 L662.3,290.5 L663.7,281.4 L665.2,289.0 L666.1,284.1 L667.0,290.1 L667.7,282.4 L668.4,290.0 L669.8,287.2 L671.2,290.3 L671.8,284.9 L672.5,289.1 L673.9,284.8 L675.4,289.9 L676.5,284.7 L677.6,287.9 L678.3,286.2 L679.1,287.2 L680.3,279.7 L681.5,287.1 L682.2,279.5 L682.8,288.0 L683.8,284.7 L684.7,288.1 L684.0,300.0 L684.0,309.0 Z" fill="#4a7838" filter="url(#bl1)"/>
<g stroke="#90b070" stroke-width="0.8" opacity="0.55"><line x1="670.8" y1="303.6" x2="671.1" y2="282.7"/><line x1="677.1" y1="300.3" x2="677.6" y2="291.0"/><line x1="622.1" y1="305.9" x2="624.0" y2="291.4"/><line x1="668.2" y1="300.9" x2="668.5" y2="283.8"/><line x1="672.1" y1="302.4" x2="672.5" y2="293.0"/><line x1="672.7" y1="307.8" x2="673.0" y2="287.3"/><line x1="664.1" y1="303.8" x2="663.9" y2="286.8"/><line x1="623.3" y1="303.0" x2="625.2" y2="295.0"/><line x1="656.9" y1="304.0" x2="656.9" y2="283.7"/><line x1="632.1" y1="306.3" x2="633.7" y2="288.0"/><line x1="668.0" y1="306.2" x2="669.1" y2="289.5"/><line x1="666.2" y1="302.9" x2="667.3" y2="285.4"/><line x1="647.0" y1="306.2" x2="648.1" y2="286.5"/><line x1="679.2" y1="305.2" x2="679.9" y2="281.8"/><line x1="651.3" y1="302.0" x2="652.3" y2="288.1"/><line x1="670.2" y1="305.2" x2="671.6" y2="285.9"/><line x1="658.1" y1="305.9" x2="659.6" y2="286.5"/><line x1="672.0" y1="307.0" x2="673.1" y2="292.7"/></g>
<g stroke="#2e5026" stroke-width="1" opacity="0.5"><line x1="680.0" y1="308" x2="680.0" y2="297.3"/><line x1="624.6" y1="308" x2="625.3" y2="301.4"/><line x1="646.4" y1="308" x2="646.8" y2="299.2"/><line x1="664.1" y1="308" x2="663.5" y2="299.8"/><line x1="653.7" y1="308" x2="654.0" y2="296.2"/><line x1="656.7" y1="308" x2="657.2" y2="298.4"/><line x1="663.4" y1="308" x2="662.5" y2="293.6"/><line x1="643.9" y1="308" x2="644.2" y2="294.2"/><line x1="661.0" y1="308" x2="661.3" y2="292.4"/><line x1="646.0" y1="308" x2="645.5" y2="292.5"/><line x1="622.3" y1="308" x2="622.0" y2="293.8"/><line x1="626.5" y1="308" x2="625.6" y2="296.7"/><line x1="639.6" y1="308" x2="639.8" y2="297.9"/><line x1="629.6" y1="308" x2="630.5" y2="292.0"/></g>
<line x1="640" y1="292" x2="646" y2="279" stroke="#a8b8a0" stroke-width="0.6" opacity="0.6"/>
<!-- water -->
<path d="M479,306 L605,306 L605,312 L560,314 L479,319 Z" fill="url(#water)" filter="url(#bl1)"/>
<rect x="488" y="312.5" width="60" height="5" fill="#c4ccc8" opacity="0.5"/>
<!-- grass field -->
<path d="M479,319 L560,314.5 L605,312 L612,306 L684,306 L684,383 L479,383 Z" fill="url(#grassg)"/>
<g filter="url(#bl1)" fill="#4c7438"><ellipse cx="590" cy="310" rx="10" ry="4.5"/><ellipse cx="605" cy="308" rx="9" ry="5"/><ellipse cx="575" cy="313" rx="8" ry="3"/></g>
<rect x="479" y="308" width="205" height="75" filter="url(#tex)" opacity="0.55"/>
<rect x="479" y="322" width="205" height="61" filter="url(#tex2)" opacity="0.7"/>
<g stroke="#b2cc8c" stroke-width="1" opacity="0.6" fill="none">
<path d="M483,383 Q487,362 492,342"/><path d="M496,383 Q501,366 507,352"/><path d="M513,383 Q517,370 524,360"/><path d="M533,383 Q538,372 548,366"/><path d="M490,352 Q500,346 512,348"/><path d="M598,383 Q606,372 616,366"/><path d="M632,383 Q638,368 650,360"/><path d="M662,383 Q666,366 674,356"/><path d="M646,378 Q660,372 680,373"/><path d="M486,330 Q490,324 496,320"/><path d="M505,370 Q520,366 530,369"/>
</g>
<!-- tray glass edge -->
<polygon points="490,327 584.4,361.8 680,326.9 681,333 584.4,375.5 490,334.5" fill="#2f3b2a" opacity="0.88"/>
<polygon points="491,328 584.4,363 680,328 680,329.5 584.4,365 491,329.5" fill="#7e8c7a" opacity="0.9"/>
<polygon points="584.4,367 680,331 680,332.5 584.4,369" fill="#5c6a56" opacity="0.7"/>
<polyline points="490,334.5 584.4,375.5 681,333.5" fill="none" stroke="#96a496" stroke-width="1.5"/>
<polygon points="490,336 584.4,377 681,335 681,339 584.4,381 490,340" fill="#22321a" opacity="0.3"/>
<!-- tray surface -->
<polygon points="492.8,326.6 584.4,318.3 680,326.2 584.4,361.8" fill="url(#tray)"/>
<polygon points="500,325.5 584,318.8 584,334 520,336" fill="#c6964a" opacity="0.45" filter="url(#bl1)"/>
<g stroke="#f0c880" stroke-width="0.9" opacity="0.45">
<line x1="540" y1="322.7" x2="541" y2="333"/><line x1="560" y1="321" x2="560" y2="334"/><line x1="572" y1="320" x2="572" y2="333"/><line x1="612" y1="321" x2="611" y2="331"/>
</g>
<polyline points="492.8,326.6 584.4,318.3 680,326.2 584.4,361.8 492.8,326.6" fill="none" stroke="#c8c6b0" stroke-width="0.9" opacity="0.9"/>
<line x1="583.6" y1="317" x2="583.6" y2="375" stroke="#c4cabc" stroke-width="1.2"/>
<line x1="586" y1="317" x2="586" y2="375" stroke="#aab2a6" stroke-width="1"/>
<line x1="584.8" y1="318" x2="584.8" y2="374" stroke="#d6c49a" stroke-width="1.2" opacity="0.6"/>
<!-- foreground grass blades -->
<g stroke="#6aa048" stroke-width="1.8" fill="none" opacity="0.9">
<path d="M576,383 Q582,370 596,360"/><path d="M591,383 Q597,372 600,362"/><path d="M552,383 Q556,373 562,366"/>
</g>
</g>
</g>

</svg></body></html>
